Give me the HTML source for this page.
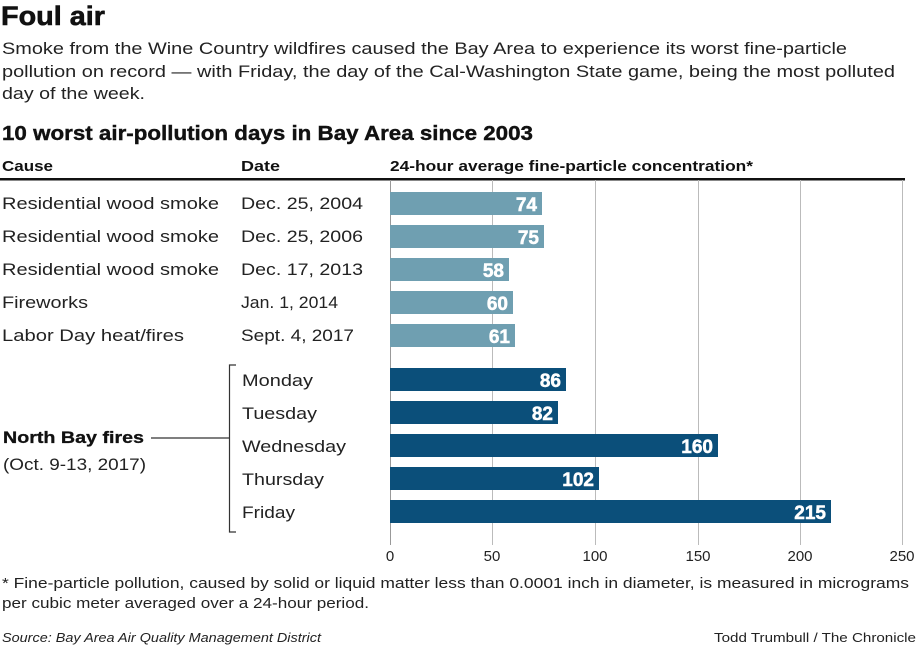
<!DOCTYPE html>
<html><head><meta charset="utf-8"><style>
body{margin:0;background:#fff;}
svg{display:block;font-family:"Liberation Sans",sans-serif;}
</style></head><body>
<svg width="920" height="646" viewBox="0 0 920 646">
<text x="1" y="25" font-size="27" font-weight="bold" fill="#111" stroke="#111" stroke-width="0.6" textLength="104" lengthAdjust="spacingAndGlyphs">Foul air</text>
<g font-size="17" fill="#222">
<text x="2" y="54" textLength="845" lengthAdjust="spacingAndGlyphs">Smoke from the Wine Country wildfires caused the Bay Area to experience its worst fine-particle</text>
<text x="2" y="77" textLength="893" lengthAdjust="spacingAndGlyphs">pollution on record — with Friday, the day of the Cal-Washington State game, being the most polluted</text>
<text x="2" y="99" textLength="143" lengthAdjust="spacingAndGlyphs">day of the week.</text>
</g>
<text x="2" y="140" font-size="20" font-weight="bold" fill="#111" stroke="#111" stroke-width="0.4" textLength="531" lengthAdjust="spacingAndGlyphs">10 worst air-pollution days in Bay Area since 2003</text>
<g font-size="15" font-weight="bold" fill="#111">
<text x="2" y="171" textLength="51" lengthAdjust="spacingAndGlyphs">Cause</text>
<text x="241" y="171" textLength="39" lengthAdjust="spacingAndGlyphs">Date</text>
<text x="390" y="171" textLength="363" lengthAdjust="spacingAndGlyphs">24-hour average fine-particle concentration*</text>
</g>
<rect x="0" y="178" width="905" height="2.5" fill="#111"/>
<g stroke="#bbb" stroke-width="1">
<line x1="492.5" y1="180" x2="492.5" y2="545"/>
<line x1="595.5" y1="180" x2="595.5" y2="545"/>
<line x1="698.5" y1="180" x2="698.5" y2="545"/>
<line x1="800.5" y1="180" x2="800.5" y2="545"/>
<line x1="902.5" y1="180" x2="902.5" y2="545"/>
</g>
<line x1="390.5" y1="180" x2="390.5" y2="545" stroke="#999"/>
<g fill="#6f9fb1">
<rect x="390" y="192" width="152" height="23"/>
<rect x="390" y="225" width="154" height="23"/>
<rect x="390" y="258" width="119" height="23"/>
<rect x="390" y="291" width="123" height="23"/>
<rect x="390" y="324" width="125" height="23"/>
</g>
<g fill="#0b4f7a">
<rect x="390" y="368" width="176" height="23"/>
<rect x="390" y="401" width="168" height="23"/>
<rect x="390" y="434" width="328" height="23"/>
<rect x="390" y="467" width="209" height="23"/>
<rect x="390" y="500" width="441" height="23"/>
</g>
<g font-size="19" font-weight="bold" fill="#fff" stroke="#fff" stroke-width="0.5" text-anchor="end">
<text x="537" y="211">74</text>
<text x="539" y="244">75</text>
<text x="504" y="277">58</text>
<text x="508" y="310">60</text>
<text x="510" y="343">61</text>
<text x="561" y="387">86</text>
<text x="553" y="420">82</text>
<text x="713" y="453">160</text>
<text x="594" y="486">102</text>
<text x="826" y="519">215</text>
</g>
<g font-size="17" fill="#222">
<text x="2" y="209" textLength="217" lengthAdjust="spacingAndGlyphs">Residential wood smoke</text>
<text x="2" y="242" textLength="217" lengthAdjust="spacingAndGlyphs">Residential wood smoke</text>
<text x="2" y="275" textLength="217" lengthAdjust="spacingAndGlyphs">Residential wood smoke</text>
<text x="2" y="308" textLength="86" lengthAdjust="spacingAndGlyphs">Fireworks</text>
<text x="2" y="341" textLength="182" lengthAdjust="spacingAndGlyphs">Labor Day heat/fires</text>
<text x="241" y="209" textLength="122" lengthAdjust="spacingAndGlyphs">Dec. 25, 2004</text>
<text x="241" y="242" textLength="122" lengthAdjust="spacingAndGlyphs">Dec. 25, 2006</text>
<text x="241" y="275" textLength="122" lengthAdjust="spacingAndGlyphs">Dec. 17, 2013</text>
<text x="241" y="308" textLength="97" lengthAdjust="spacingAndGlyphs">Jan. 1, 2014</text>
<text x="241" y="341" textLength="113" lengthAdjust="spacingAndGlyphs">Sept. 4, 2017</text>
<text x="242" y="386" textLength="71" lengthAdjust="spacingAndGlyphs">Monday</text>
<text x="242" y="419" textLength="75" lengthAdjust="spacingAndGlyphs">Tuesday</text>
<text x="242" y="452" textLength="104" lengthAdjust="spacingAndGlyphs">Wednesday</text>
<text x="242" y="485" textLength="82" lengthAdjust="spacingAndGlyphs">Thursday</text>
<text x="242" y="518" textLength="53" lengthAdjust="spacingAndGlyphs">Friday</text>
<text x="3" y="470" textLength="143" lengthAdjust="spacingAndGlyphs">(Oct. 9-13, 2017)</text>
</g>
<text x="3" y="443" font-size="17" font-weight="bold" fill="#111" stroke="#111" stroke-width="0.3" textLength="141" lengthAdjust="spacingAndGlyphs">North Bay fires</text>
<g stroke="#333" stroke-width="1.2" fill="none">
<line x1="151" y1="438" x2="229" y2="438"/>
<polyline points="236,365 229.5,365 229.5,532 236,532"/>
</g>
<g font-size="15" fill="#222" text-anchor="middle">
<text x="390" y="561">0</text>
<text x="492" y="561">50</text>
<text x="595" y="561">100</text>
<text x="698" y="561">150</text>
<text x="800" y="561">200</text>
<text x="902" y="561">250</text>
</g>
<g font-size="15" fill="#222">
<text x="2" y="588" textLength="907" lengthAdjust="spacingAndGlyphs">* Fine-particle pollution, caused by solid or liquid matter less than 0.0001 inch in diameter, is measured in micrograms</text>
<text x="2" y="608" textLength="367" lengthAdjust="spacingAndGlyphs">per cubic meter averaged over a 24-hour period.</text>
</g>
<text x="2" y="642" font-size="13" font-style="italic" fill="#222" textLength="319" lengthAdjust="spacingAndGlyphs">Source: Bay Area Air Quality Management District</text>
<text x="916" y="642" font-size="13" fill="#222" text-anchor="end" textLength="202" lengthAdjust="spacingAndGlyphs">Todd Trumbull / The Chronicle</text>
</svg>
</body></html>
